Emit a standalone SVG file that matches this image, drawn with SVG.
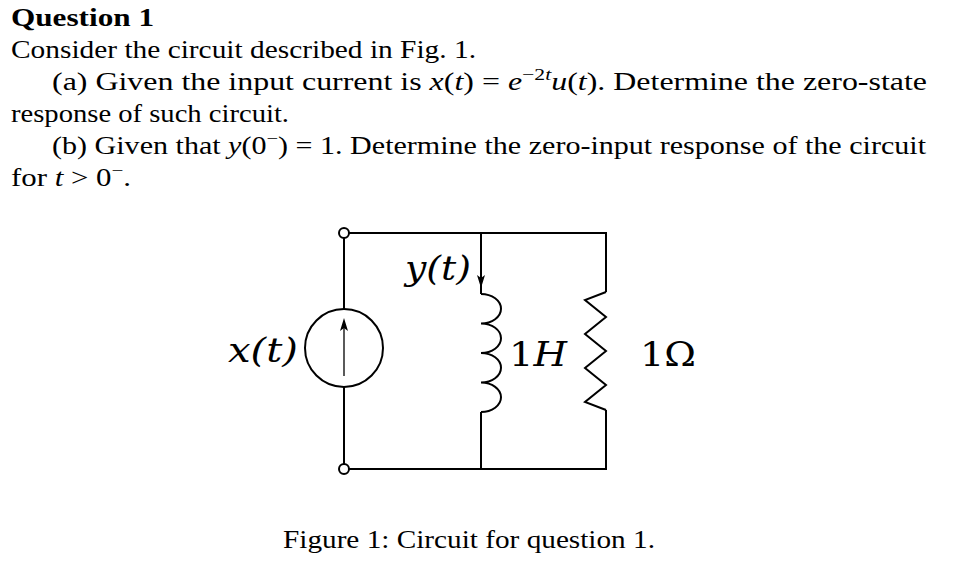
<svg xmlns="http://www.w3.org/2000/svg" width="972" height="572" viewBox="0 0 972 572">
<style>
.t{font-family:"Liberation Serif",serif;font-size:25px;fill:#000}
.m{font-family:"DejaVu Serif","Liberation Serif",serif;font-style:italic;font-size:34px;fill:#000}
.w{fill:none;stroke:#000;stroke-width:2}
</style>
<rect width="972" height="572" fill="#fff"/>
<g id="text">
<text class="t" x="11" y="26" font-weight="bold" textLength="143" lengthAdjust="spacingAndGlyphs">Question 1</text>
<text class="t" x="11" y="58" textLength="465" lengthAdjust="spacingAndGlyphs">Consider the circuit described in Fig. 1.</text>
<text class="t" x="52" y="90" textLength="875" lengthAdjust="spacingAndGlyphs">(a) Given the input current is <tspan font-style="italic">x</tspan>(<tspan font-style="italic">t</tspan>) = <tspan font-style="italic">e</tspan><tspan font-size="17" dy="-10">−2<tspan font-style="italic">t</tspan></tspan><tspan font-style="italic" dy="10">u</tspan>(<tspan font-style="italic">t</tspan>). Determine the zero-state</text>
<text class="t" x="11" y="122" textLength="278" lengthAdjust="spacingAndGlyphs">response of such circuit.</text>
<text class="t" x="52" y="154" textLength="874" lengthAdjust="spacingAndGlyphs">(b) Given that <tspan font-style="italic">y</tspan>(0<tspan font-size="17" dy="-10">−</tspan><tspan dy="10">) = 1. Determine the zero-input response of the circuit</tspan></text>
<text class="t" x="11" y="186" textLength="120" lengthAdjust="spacingAndGlyphs">for <tspan font-style="italic">t</tspan> &gt; 0<tspan font-size="17" dy="-10">−</tspan><tspan dy="10">.</tspan></text>
<text class="t" x="283" y="548" textLength="372" lengthAdjust="spacingAndGlyphs">Figure 1: Circuit for question 1.</text>
</g>
<g id="connectors">
<path class="w" d="M349,233 H606 V292 M606,410 V469 H349 M344,238 V309 M344,387 V464 M481,233 V294 M481,412 V469"/>
</g>
<g id="source">
<circle class="w" cx="344" cy="348" r="39"/>
<path d="M344,376 V322" stroke="#000" stroke-width="1.3"/>
<path d="M344,318 L340,331 L344,328 L348,331 Z" fill="#000"/>
<circle class="w" cx="344" cy="233" r="5" fill="#fff"/>
<circle class="w" cx="344" cy="469" r="5" fill="#fff"/>
<text class="m" x="228" y="362" textLength="70" lengthAdjust="spacingAndGlyphs">x(t)</text>
</g>
<g id="inductor">
<path class="w" d="M481,294 a20,14.75 0 0 1 0,29.5 a20,14.75 0 0 1 0,29.5 a20,14.75 0 0 1 0,29.5 a20,14.75 0 0 1 0,29.5"/>
<path d="M481,240 V282" stroke="#000" stroke-width="1.3"/>
<path d="M481,288 L477,275 L481,278 L485,275 Z" fill="#000"/>
<text class="m" x="405" y="280" textLength="66" lengthAdjust="spacingAndGlyphs">y(t)</text>
<text class="m" x="509" y="366" textLength="58" lengthAdjust="spacingAndGlyphs"><tspan style="font-style:normal">1</tspan>H</text>
</g>
<g id="resistor">
<path class="w" d="M606,292 L585,300 L606,317 L585,334 L606,351 L585,368 L606,385 L585,402 L606,410"/>
<text class="m" x="640" y="366" style="font-style:normal" textLength="56" lengthAdjust="spacingAndGlyphs">1Ω</text>
</g>
</svg>
